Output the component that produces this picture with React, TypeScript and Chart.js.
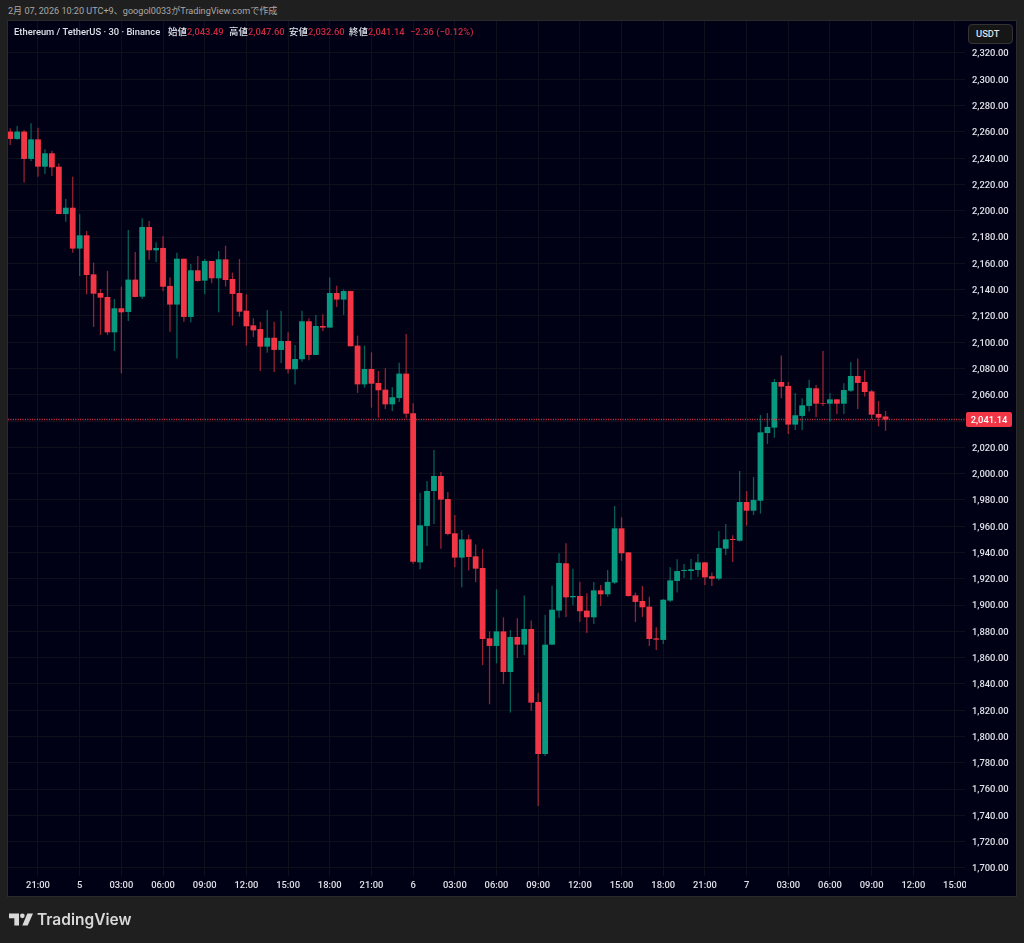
import React, { useEffect, useRef } from 'react';
import Chart from 'chart.js/auto';

// 30 minute candles, first one is Feb 4 19:00
const opens = [
  2260.2, 2254.6, 2260.2, 2239.4, 2254.3, 2233.5, 2243.7, 2233.5, 2197.5, 2202.3,
  2171.2, 2181.3, 2151.6, 2137.4, 2134.4, 2107.5, 2125.8, 2123.0, 2147.6, 2134.6,
  2187.6, 2169.9, 2171.7, 2142.8, 2128.6, 2163.5, 2119.2, 2154.7, 2146.8, 2161.8,
  2148.6, 2163.0, 2148.1, 2137.4, 2124.0, 2112.8, 2110.0, 2096.6, 2103.4, 2094.1,
  2100.9, 2079.4, 2087.0, 2115.9, 2090.3, 2112.3, 2111.1, 2137.4, 2132.4, 2138.9,
  2097.4, 2067.9, 2079.6, 2069.0, 2063.9, 2052.7, 2057.5, 2076.1, 2045.9, 1932.5,
  1960.2, 1986.8, 1998.2, 1980.7, 1954.6, 1936.1, 1950.0, 1937.1, 1928.2, 1874.7,
  1868.9, 1880.0, 1849.1, 1875.7, 1869.9, 1881.8, 1826.3, 1786.7, 1869.9, 1895.8,
  1931.8, 1905.9, 1906.9, 1895.8, 1890.7, 1911.2, 1908.2, 1917.1, 1958.4, 1940.1,
  1907.4, 1903.1, 1898.8, 1874.7, 1873.5, 1903.4, 1918.3, 1925.9, 1925.9, 1926.7,
  1932.5, 1921.9, 1920.1, 1942.9, 1950.3, 1949.0, 1978.4, 1971.8, 1979.4, 2030.9,
  2035.0, 2069.7, 2066.7, 2037.3, 2043.9, 2051.5, 2064.9, 2053.7, 2053.2, 2056.5,
  2053.2, 2063.1, 2074.3, 2069.7, 2062.6, 2045.4, 2043.49,
];
const highs = [
  2262.7, 2264.5, 2261.4, 2266.5, 2263.2, 2246.7, 2245.7, 2236.1, 2208.9, 2225.9,
  2197.3, 2184.6, 2160.5, 2140.5, 2154.2, 2132.9, 2142.2, 2185.4, 2168.6, 2194.2,
  2192.2, 2176.0, 2180.8, 2149.3, 2168.1, 2163.5, 2159.5, 2165.6, 2163.3, 2161.8,
  2169.4, 2173.4, 2152.9, 2163.3, 2136.4, 2118.2, 2115.6, 2124.5, 2115.6, 2124.0,
  2107.5, 2097.9, 2124.0, 2118.2, 2120.7, 2121.2, 2149.3, 2143.0, 2140.0, 2139.2,
  2105.0, 2097.4, 2092.3, 2078.1, 2080.1, 2065.7, 2084.4, 2106.2, 2053.5, 1985.5,
  1994.4, 2018.0, 2001.2, 1986.0, 1968.5, 1957.1, 1953.6, 1946.0, 1942.7, 1880.0,
  1912.0, 1890.7, 1881.0, 1889.9, 1907.2, 1888.2, 1833.4, 1892.5, 1914.8, 1939.4,
  1947.0, 1927.7, 1917.6, 1909.0, 1917.6, 1915.3, 1926.7, 1975.4, 1966.8, 1940.4,
  1909.5, 1914.5, 1906.4, 1883.1, 1904.4, 1928.7, 1934.8, 1931.3, 1935.1, 1938.9,
  1932.5, 1924.7, 1956.4, 1961.7, 1953.1, 2002.0, 1986.8, 1997.4, 2044.6, 2046.1,
  2072.0, 2089.8, 2069.7, 2061.4, 2057.3, 2071.5, 2067.4, 2093.3, 2061.4, 2056.5,
  2068.7, 2084.9, 2087.5, 2078.6, 2063.6, 2055.3, 2047.6,
];
const lows = [
  2250.0, 2254.0, 2221.4, 2237.8, 2225.9, 2228.0, 2226.4, 2197.3, 2191.7, 2168.1,
  2150.4, 2136.4, 2111.6, 2105.5, 2105.5, 2093.3, 2076.3, 2116.1, 2133.9, 2132.9,
  2162.8, 2161.0, 2138.7, 2108.0, 2087.5, 2115.6, 2115.1, 2146.0, 2136.4, 2144.8,
  2122.7, 2142.2, 2112.6, 2119.4, 2097.4, 2104.0, 2078.1, 2092.0, 2077.3, 2084.2,
  2076.1, 2067.9, 2085.2, 2086.2, 2090.3, 2108.5, 2111.1, 2126.8, 2120.7, 2096.9,
  2061.4, 2065.4, 2050.2, 2042.6, 2049.2, 2047.7, 2054.5, 2042.1, 1931.5, 1927.2,
  1945.0, 1961.7, 1942.9, 1953.1, 1929.0, 1913.5, 1926.4, 1917.6, 1854.4, 1824.5,
  1855.7, 1840.0, 1818.2, 1859.8, 1862.0, 1819.7, 1747.2, 1785.2, 1869.9, 1890.4,
  1890.9, 1899.8, 1887.1, 1878.8, 1885.6, 1899.3, 1906.4, 1916.0, 1933.6, 1906.4,
  1887.1, 1891.0, 1868.9, 1865.8, 1870.4, 1902.4, 1909.5, 1920.6, 1919.1, 1921.6,
  1915.3, 1914.5, 1918.8, 1937.9, 1932.8, 1948.3, 1960.4, 1968.5, 1969.6, 2022.6,
  2027.4, 2057.3, 2030.2, 2033.2, 2033.2, 2047.2, 2043.1, 2051.5, 2039.5, 2045.4,
  2045.4, 2062.1, 2049.2, 2058.6, 2041.3, 2036.0, 2032.6,
];
const closes = [
  2254.6, 2260.2, 2239.4, 2254.3, 2233.5, 2243.7, 2233.0, 2197.5, 2202.3, 2171.2,
  2181.3, 2151.1, 2136.9, 2133.9, 2107.5, 2125.8, 2122.7, 2147.6, 2134.4, 2187.6,
  2169.9, 2171.7, 2142.2, 2128.6, 2163.5, 2119.2, 2154.7, 2146.6, 2161.8, 2148.6,
  2163.0, 2147.3, 2136.7, 2123.2, 2112.1, 2109.0, 2096.6, 2103.4, 2094.1, 2100.9,
  2079.4, 2087.2, 2115.9, 2090.3, 2112.3, 2111.1, 2137.4, 2132.4, 2138.9, 2096.9,
  2067.9, 2079.6, 2068.4, 2063.4, 2052.7, 2058.1, 2076.1, 2045.6, 1933.0, 1960.7,
  1986.8, 1998.2, 1980.2, 1954.1, 1936.1, 1950.0, 1936.6, 1927.7, 1874.2, 1868.9,
  1880.0, 1849.1, 1875.7, 1869.9, 1881.8, 1825.8, 1786.7, 1869.9, 1896.5, 1932.0,
  1905.9, 1906.9, 1895.3, 1890.7, 1911.2, 1908.2, 1917.6, 1958.4, 1939.4, 1906.9,
  1902.4, 1898.3, 1874.2, 1873.7, 1904.1, 1918.8, 1925.9, 1926.7, 1927.2, 1932.5,
  1921.1, 1920.1, 1943.4, 1950.0, 1949.5, 1978.4, 1971.8, 1980.0, 2031.4, 2035.5,
  2069.7, 2066.2, 2037.3, 2044.4, 2052.0, 2065.2, 2053.2, 2053.2, 2056.5, 2053.2,
  2063.6, 2074.3, 2069.0, 2062.1, 2044.9, 2042.6, 2041.14,
];

const xTickIndexes = [
  4, 10, 16, 22, 28, 34, 40, 46, 52, 58, 64, 70, 76, 82, 88, 94, 100, 106, 112, 118, 124, 130, 136,
];
const xTickLabels = [
  '21:00', '5', '03:00', '06:00', '09:00', '12:00', '15:00', '18:00', '21:00', '6', '03:00', '06:00',
  '09:00', '12:00', '15:00', '18:00', '21:00', '7', '03:00', '06:00', '09:00', '12:00', '15:00',
];
const lastPrice = 2041.14;

const UP = '#089981';
const DOWN = '#f23645';
const UP_WICK = 'rgba(8,153,129,0.62)';
const DOWN_WICK = 'rgba(242,54,69,0.62)';
const PANEL = '#010115';
const GRID = '#0e101c';
const AXIS_TEXT = '#dfe1e8';
const LEGEND_RED = '#c9293d';
const FONT = 'Roboto, "Noto Sans CJK JP", sans-serif';
const FONT_SIZE = 9.4;
const FONT_WEIGHT = 500;

// text, left edge, colour of the legend line
const legendItems: [string, number, string][] = [
  ['Ethereum / TetherUS · 30 · Binance', 14, AXIS_TEXT],
  ['始値', 168, AXIS_TEXT],
  ['2,043.49', 187, LEGEND_RED],
  ['高値', 229, AXIS_TEXT],
  ['2,047.60', 248, LEGEND_RED],
  ['安値', 289, AXIS_TEXT],
  ['2,032.60', 308, LEGEND_RED],
  ['終値', 349, AXIS_TEXT],
  ['2,041.14', 368, LEGEND_RED],
  ['−2.36 (−0.12%)', 410, LEGEND_RED],
];

const absText = (left: number, top: number, color: string, size = FONT_SIZE): React.CSSProperties => ({
  position: 'absolute',
  left,
  top,
  color,
  fontFamily: FONT,
  fontSize: size,
  fontWeight: FONT_WEIGHT,
  lineHeight: '14px',
  whiteSpace: 'nowrap',
});

// clips the last time label and draws the red price tag on the axis
const overlayPlugin = {
  id: 'overlay',
  afterDraw(chart: any) {
    const { ctx, scales } = chart;
    const y = scales.y.getPixelForValue(lastPrice);
    ctx.save();
    ctx.fillStyle = PANEL;
    ctx.fillRect(966, 876, 49, 19);
    ctx.fillStyle = DOWN;
    ctx.beginPath();
    ctx.roundRect(966, y - 7.5, 46, 15, 2);
    ctx.fill();
    ctx.fillStyle = '#ffffff';
    ctx.font = `${FONT_WEIGHT} ${FONT_SIZE}px ${FONT}`;
    ctx.textAlign = 'center';
    ctx.textBaseline = 'middle';
    ctx.fillText('2,041.14', 989, y + 1);
    ctx.restore();
  },
};

const App: React.FC = () => {
  const chartRef = useRef<HTMLCanvasElement | null>(null);

  useEffect(() => {
    const ctx = chartRef.current?.getContext('2d');
    if (!ctx) return;
    const isUp = closes.map((c, i) => c >= opens[i]);
    const xMin = -0.317;
    const xMax = 137.44;
    const tickFont = { family: FONT, size: FONT_SIZE, weight: FONT_WEIGHT };
    const chart = new Chart(ctx, {
      type: 'bar',
      data: {
        datasets: [
          {
            type: 'line',
            data: [
              { x: xMin, y: lastPrice },
              { x: xMax, y: lastPrice },
            ],
            borderColor: 'rgba(242,54,69,0.8)',
            borderWidth: 1.4,
            borderDash: [1.2, 1.2],
            pointRadius: 0,
            order: 0,
          },
          {
            data: opens.map((o, i) => ({ x: i, y: [o, closes[i]] })),
            backgroundColor: isUp.map((u) => (u ? UP : DOWN)),
            barThickness: 5.8,
            inflateAmount: 0,
            order: 1,
          },
          {
            data: lows.map((l, i) => ({ x: i, y: [l, highs[i]] })),
            backgroundColor: isUp.map((u) => (u ? UP_WICK : DOWN_WICK)),
            barThickness: 1.3,
            inflateAmount: 0,
            order: 2,
          },
        ] as any,
      },
      options: {
        animation: false,
        responsive: false,
        events: [],
        layout: { padding: { left: 8, top: 21, right: 8, bottom: 47 } },
        datasets: { bar: { grouped: false } },
        plugins: { legend: { display: false }, tooltip: { enabled: false } },
        scales: {
          x: {
            type: 'linear',
            offset: false,
            min: xMin,
            max: xMax,
            afterBuildTicks: (scale: any) => {
              scale.ticks = xTickIndexes.map((value) => ({ value }));
            },
            afterFit: (scale: any) => {
              scale.height = 20;
            },
            grid: { color: GRID, offset: false, drawTicks: false },
            border: { display: false },
            ticks: {
              autoSkip: false,
              maxRotation: 0,
              padding: 4,
              color: AXIS_TEXT,
              font: tickFont,
              callback: (_v: any, i: number) => xTickLabels[i],
            },
          },
          y: {
            position: 'right',
            min: 1693.9,
            max: 2344.34,
            afterBuildTicks: (scale: any) => {
              scale.ticks = scale.ticks.filter((t: any) => t.value <= 2320);
            },
            afterFit: (scale: any) => {
              scale.width = 51;
            },
            grid: { color: GRID, drawTicks: false },
            border: { display: false },
            ticks: {
              stepSize: 20,
              includeBounds: false,
              autoSkip: false,
              padding: 7,
              labelOffset: 1,
              color: AXIS_TEXT,
              font: tickFont,
              callback: (v: any) => Number(v).toLocaleString('en-US', { minimumFractionDigits: 2 }),
            },
          },
        },
      } as any,
      plugins: [overlayPlugin],
    });
    return () => {
      chart.destroy();
    };
  }, []);

  return (
    <div style={{ position: 'absolute', left: 0, top: 0, width: 1024, height: 943, background: '#1f1f1f', overflow: 'hidden' }}>
      <div style={{ ...absText(8, 4, '#a8a8a8', 9.1), fontWeight: 400 }}>2月 07, 2026 10:20 UTC+9、googol0033がTradingView.comで作成</div>
      <div
        style={{
          position: 'absolute',
          left: 7,
          top: 20,
          width: 1008,
          height: 875,
          background: PANEL,
          border: '1px solid #2b2b2f',
        }}
      />
      <canvas ref={chartRef} width={1024} height={943} style={{ position: 'absolute', left: 0, top: 0 }} />
      {legendItems.map(([text, left, color]) => (
        <div key={left} style={absText(left, 25, color)}>
          {text}
        </div>
      ))}
      <div
        style={{
          ...absText(968, 24, AXIS_TEXT),
          width: 45,
          height: 20,
          lineHeight: '18px',
          boxSizing: 'border-box',
          paddingLeft: 7,
          background: '#161616',
          border: '1px solid #333333',
          borderRadius: 4,
        }}
      >
        USDT
      </div>
      <svg width="24" height="13" viewBox="0 0 36 18" style={{ position: 'absolute', left: 9, top: 913 }}>
        <path d="M0 0h15v18H8V7H0zM36 0l-8 18h-8l7.5-18z" fill="#d9d9d9" />
        <circle cx="20" cy="3.5" r="3.5" fill="#d9d9d9" />
      </svg>
      <div style={{ ...absText(37, 909, '#d9d9d9', 15.5), lineHeight: '22px', fontFamily: 'Inter, sans-serif', fontWeight: 600 }}>TradingView</div>
    </div>
  );
};

export default App;
